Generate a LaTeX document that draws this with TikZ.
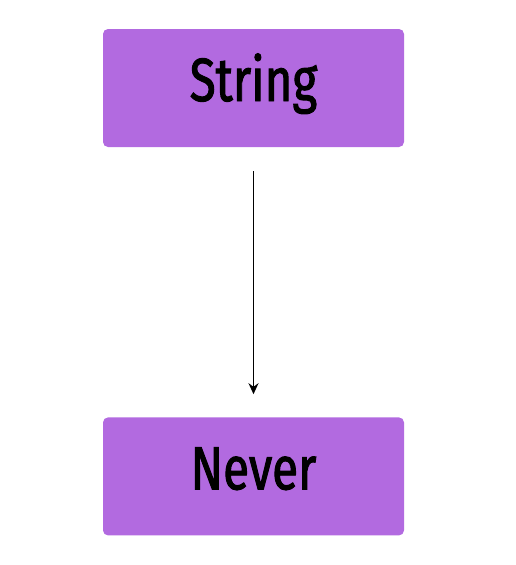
\documentclass[tikz,border=0pt]{standalone}
\usepackage{fontspec}
\newfontfamily\handfont[FakeStretch=0.78, FakeBold=1.6]{Fira Sans}
\usetikzlibrary{positioning,arrows.meta}
\definecolor{typebox}{RGB}{178,106,224}
\tikzset{
    typenode/.style={fill=typebox, rounded corners=5pt, minimum width=301pt, minimum height=118pt,
        text height=44pt, text depth=18pt, font=\handfont\fontsize{61}{70}\selectfont}
}
\begin{document}
\begin{tikzpicture}[x=1pt, y=-1pt, auto, node distance=270pt]
    \useasboundingbox (0,0) rectangle (516,565);

    % Nodes
    \node [typenode] (string) at (253.5,88) {String};
    \node [typenode, below=of string] (never) {Never};

    % Arrows
    \draw[-{Stealth[length=11pt, width=10pt]}, line width=1.7pt, shorten <=24pt, shorten >=23pt] (string) -- (never);
\end{tikzpicture}
\end{document}
